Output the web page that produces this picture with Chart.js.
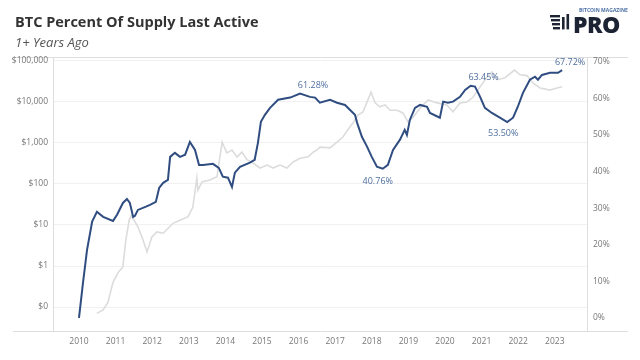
<!DOCTYPE html>
<html>
<head>
    <title>BTC Percent Of Supply Last Active</title>
    <script src="https://cdn.jsdelivr.net/npm/chart.js"></script>
    <style>
        body {
            margin: 0;
            background: #fff;
            font-family: "Open Sans", Arial, sans-serif;
        }
        .wrap {
            position: relative;
            width: 640px;
            height: 360px;
            overflow: hidden;
        }
        h1 {
            position: absolute;
            left: 15px;
            top: 12px;
            margin: 0;
            font-size: 14.5px;
            font-weight: 700;
            color: #333;
        }
        .sub {
            position: absolute;
            left: 15px;
            top: 33px;
            font-size: 13px;
            font-style: italic;
            color: #555;
        }
        .logo {
            position: absolute;
            left: 550px;
            top: 6px;
        }
        .logo svg {
            position: absolute;
            left: 0;
            top: 4px;
        }
        .logo .small {
            position: absolute;
            left: 29px;
            top: 1px;
            font-size: 5px;
            font-weight: 700;
            color: #4a6fa5;
            white-space: nowrap;
        }
        .logo .pro {
            position: absolute;
            left: 23px;
            top: 2px;
            font-size: 23px;
            font-weight: 800;
            color: #1c2333;
            letter-spacing: -0.5px;
        }
        canvas {
            position: absolute;
            left: 0;
            top: 0;
        }
    </style>
</head>
<body>
    <div class="wrap">
        <canvas id="chart" width="640" height="360"></canvas>
        <h1>BTC Percent Of Supply Last Active</h1>
        <div class="sub">1+ Years Ago</div>
        <div class="logo">
            <svg width="24" height="22" viewBox="0 0 24 22">
                <rect x="0" y="5" width="10" height="2.4" fill="#1c2333"/>
                <rect x="1" y="9" width="9" height="2.4" fill="#1c2333"/>
                <rect x="2" y="13" width="8" height="2.4" fill="#1c2333"/>
                <rect x="3" y="17" width="7" height="2.4" fill="#1c2333"/>
                <rect x="12" y="7" width="2.6" height="12.4" fill="#1c2333"/>
                <rect x="16.5" y="4" width="2.6" height="15.4" fill="#1c2333"/>
            </svg>
            <span class="small">BITCOIN MAGAZINE</span>
            <span class="pro">PRO</span>
        </div>
    </div>
    <script>
        // percent of supply last active 1+ years ago (right axis)
        var pctYears = [2010.0, 2010.11, 2010.22, 2010.36, 2010.49, 2010.66, 2010.93, 2011.04, 2011.2, 2011.31,
            2011.39, 2011.48, 2011.53, 2011.61, 2011.83, 2011.94, 2012.1, 2012.19, 2012.3, 2012.43,
            2012.49, 2012.62, 2012.76, 2012.9, 2013.03, 2013.17, 2013.28, 2013.39, 2013.66, 2013.82,
            2013.93, 2014.07, 2014.18, 2014.26, 2014.4, 2014.67, 2014.8, 2014.89, 2014.97, 2015.08,
            2015.22, 2015.44, 2015.77, 2016.04, 2016.31, 2016.45, 2016.58, 2016.86, 2017.05, 2017.27,
            2017.4, 2017.54, 2017.6, 2017.73, 2017.87, 2018.0, 2018.14, 2018.3, 2018.44, 2018.58,
            2018.77, 2018.9, 2018.96, 2019.04, 2019.18, 2019.32, 2019.51, 2019.59, 2019.86, 2019.95,
            2020.08, 2020.22, 2020.41, 2020.55, 2020.7, 2020.82, 2020.96, 2021.09, 2021.28, 2021.5,
            2021.7, 2021.86, 2021.99, 2022.13, 2022.32, 2022.46, 2022.54, 2022.65, 2022.87, 2023.09,
            2023.2];
        var pctValues = [0, 9.6, 18.6, 26.3, 29.0, 27.6, 26.5, 28.2, 31.4, 32.5,
            31.4, 27.6, 27.9, 29.5, 30.4, 30.9, 31.7, 35.5, 36.9, 37.7,
            44.0, 45.1, 44.0, 44.6, 48.1, 45.9, 41.8, 41.8, 42.1, 41.0,
            38.6, 38.3, 35.8, 39.7, 41.3, 42.4, 43.2, 47.9, 53.6, 55.5,
            57.4, 59.6, 60.2, 61.28, 60.4, 60.2, 58.8, 59.6, 58.8, 58.2,
            56.9, 55.5, 53.3, 49.5, 46.8, 44.0, 41.3, 40.76, 41.8, 45.9,
            48.7, 51.4, 50.0, 54.1, 57.4, 58.2, 57.7, 56.0, 54.7, 59.1,
            58.8, 59.1, 60.4, 62.3, 63.45, 63.2, 60.4, 57.4, 56.0, 54.7,
            53.5, 54.7, 57.7, 61.5, 65.1, 65.9, 65.1, 66.4, 67.0, 67.0,
            67.72];

        // BTC price in USD (left axis, log)
        var priceYears = [2010.49, 2010.66, 2010.79, 2010.93, 2011.07, 2011.2, 2011.28, 2011.37, 2011.43, 2011.61,
            2011.75, 2011.86, 2011.99, 2012.13, 2012.3, 2012.57, 2012.76, 2012.98, 2013.11, 2013.22,
            2013.25, 2013.36, 2013.58, 2013.77, 2013.91, 2014.04, 2014.18, 2014.32, 2014.45, 2014.59,
            2014.75, 2014.95, 2015.14, 2015.3, 2015.49, 2015.68, 2015.85, 2016.04, 2016.26, 2016.4,
            2016.5, 2016.58, 2016.86, 2017.05, 2017.21, 2017.4, 2017.49, 2017.62, 2017.76, 2017.98,
            2018.09, 2018.22, 2018.36, 2018.5, 2018.69, 2018.85, 2018.99, 2019.13, 2019.32, 2019.54,
            2019.78, 2020.05, 2020.22, 2020.41, 2020.6, 2020.77, 2020.96, 2021.15, 2021.28, 2021.45,
            2021.64, 2021.9, 2022.05, 2022.24, 2022.4, 2022.6, 2022.87, 2023.06, 2023.2];
        var priceValues = [0.07, 0.085, 0.13, 0.4, 0.7, 0.95, 4.3, 13, 17, 9,
            4.3, 2.2, 5.1, 6.8, 6.3, 11, 13, 16, 27, 140,
            70, 112, 125, 150, 1050, 575, 675, 455, 600, 390,
            325, 245, 290, 245, 290, 245, 345, 425, 460, 600,
            675, 790, 760, 1050, 1400, 2450, 3100, 4800, 5750, 17400,
            9500, 7600, 8500, 6300, 6300, 5400, 3250, 4250, 7100, 11200,
            9500, 8500, 5750, 9500, 10000, 13200, 23400, 41000, 54000, 35000,
            39000, 60000, 46000, 44000, 29000, 22000, 19500, 22000, 23400];

        var yearTicks = [2010, 2011, 2012, 2013, 2014, 2015, 2016, 2017, 2018, 2019, 2020, 2021, 2022, 2023];
        var priceTicks = [0.1, 1, 10, 100, 1000, 10000, 100000];
        var priceTickLabels = ['$0', '$1', '$10', '$100', '$1,000', '$10,000', '$100,000'];
        var pctTicks = [0, 10, 20, 30, 40, 50, 60, 70];

        // labelled highs and lows of the percent line
        var calloutYears = [2016.04, 2018.3, 2020.7, 2021.7, 2023.2];
        var calloutValues = [61.28, 40.76, 63.45, 53.5, 67.72];
        var calloutLabels = ['61.28%', '40.76%', '63.45%', '53.50%', '67.72%'];
        var calloutOffsets = [[13, -8], [-5, 13], [13, -8], [-4, 11], [8, -8]];

        var blue = '#2f4d80';
        var tickFont = { family: 'Open Sans', size: 8.5 };

        var framePlugin = {
            id: 'frame',
            beforeDraw: function(chart) {
                var c = chart.ctx, a = chart.chartArea;
                c.save();
                c.strokeStyle = '#dedede';
                c.lineWidth = 1;
                c.beginPath();
                c.moveTo(13, a.top + 0.5); c.lineTo(628, a.top + 0.5);
                c.moveTo(13, a.bottom + 0.5); c.lineTo(628, a.bottom + 0.5);
                c.stroke();
                c.restore();
            },
            afterDatasetsDraw: function(chart) {
                var c = chart.ctx;
                var xs = chart.scales.x, ys = chart.scales.y2;
                c.save();
                c.font = '9px "Open Sans"';
                c.fillStyle = '#4f6f9f';
                c.textAlign = 'center';
                c.textBaseline = 'middle';
                for (var i = 0; i < calloutLabels.length; i++) {
                    var px = xs.getPixelForValue(calloutYears[i]);
                    var py = ys.getPixelForValue(calloutValues[i]);
                    c.fillText(calloutLabels[i], px + calloutOffsets[i][0], py + calloutOffsets[i][1]);
                }
                c.restore();
            }
        };

        function pairs(xs, ys) {
            return xs.map(function(x, i) { return { x: x, y: ys[i] }; });
        }

        var ctx = document.getElementById('chart').getContext('2d');
        var chart = new Chart(ctx, {
            type: 'line',
            data: {
                datasets: [{
                    label: 'Percent of supply last active 1+ years ago',
                    data: pairs(pctYears, pctValues),
                    yAxisID: 'y2',
                    borderColor: blue,
                    borderWidth: 2,
                    pointRadius: 0,
                    tension: 0,
                    order: 1
                }, {
                    label: 'BTC price',
                    data: pairs(priceYears, priceValues),
                    yAxisID: 'y',
                    borderColor: '#dcdcdc',
                    borderWidth: 1.6,
                    pointRadius: 0,
                    tension: 0,
                    order: 2
                }]
            },
            options: {
                responsive: false,
                animation: false,
                layout: { padding: { top: 57 } },
                plugins: {
                    legend: { display: false },
                    tooltip: { enabled: false }
                },
                scales: {
                    x: {
                        type: 'linear',
                        min: 2009.29,
                        max: 2023.88,
                        afterBuildTicks: function(s) {
                            s.ticks = yearTicks.map(function(v) { return { value: v }; });
                        },
                        afterFit: function(s) { s.height = 29; },
                        ticks: {
                            autoSkip: false,
                            maxRotation: 0,
                            padding: 5,
                            color: '#777',
                            font: tickFont,
                            callback: function(v) { return String(v); }
                        },
                        grid: { display: false, drawTicks: false },
                        border: { display: false }
                    },
                    y: {
                        type: 'logarithmic',
                        position: 'left',
                        min: 0.026,
                        max: 125000,
                        afterBuildTicks: function(s) {
                            s.ticks = priceTicks.map(function(v) { return { value: v }; });
                        },
                        afterFit: function(s) { s.width = 53; },
                        ticks: {
                            padding: 5,
                            color: '#777',
                            font: tickFont,
                            callback: function(v) {
                                var i = priceTicks.indexOf(v);
                                return i >= 0 ? priceTickLabels[i] : '';
                            }
                        },
                        grid: { color: '#f1f1f1', drawTicks: false },
                        border: { color: '#dedede' }
                    },
                    y2: {
                        type: 'linear',
                        position: 'right',
                        min: -3.6,
                        max: 71.3,
                        afterBuildTicks: function(s) {
                            s.ticks = pctTicks.map(function(v) { return { value: v }; });
                        },
                        afterFit: function(s) { s.width = 53; },
                        ticks: {
                            padding: 6,
                            color: '#777',
                            font: tickFont,
                            callback: function(v) { return v + '%'; }
                        },
                        grid: { display: false, drawTicks: false },
                        border: { color: '#dedede' }
                    }
                }
            },
            plugins: [framePlugin]
        });
    </script>
</body>
</html>
